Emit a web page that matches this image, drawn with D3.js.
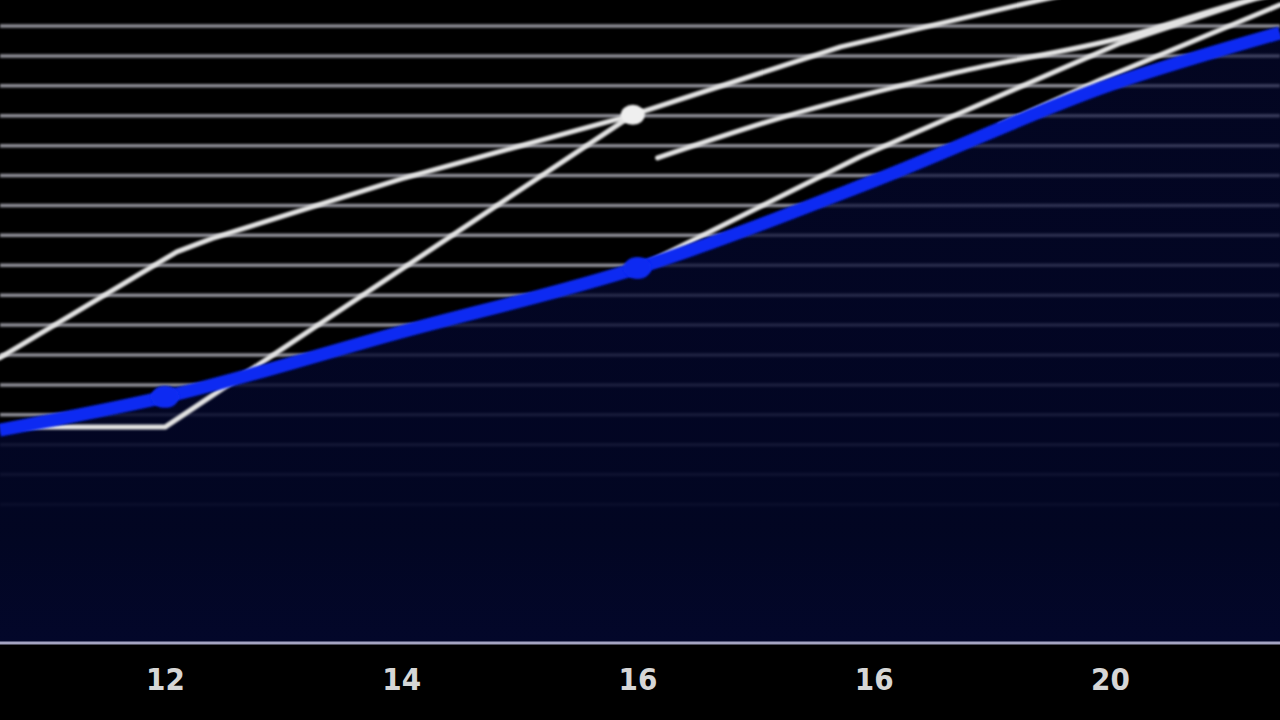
<!DOCTYPE html>
<html>
<head>
<meta charset="utf-8">
<script src="https://cdn.jsdelivr.net/npm/d3@7"></script>
<style>
  body { margin: 0; background: #000; }
  svg { display: block; }
</style>
</head>
<body>
<div id="content"></div>
<script>
// SVG size
var svgWidth = 1280;
var svgHeight = 720;

// x axis ticks (the 4th label reads "16" in the picture)
var xTickValues = [12, 14, 16, 18, 20];
var xTickLabels = ["12", "14", "16", "16", "20"];

// horizontal grid values
var gridValues = [5, 6, 7, 8, 9, 10, 11, 12, 13, 14, 15, 16, 17, 18, 19, 20, 21];

// blue (filled) series
var blueX = [10.6, 12, 14, 16, 18, 20, 21.44];
var blueY = [7.49, 8.60, 10.77, 12.91, 15.82, 19.03, 20.77];
var blueMarkerX = [12, 16];

// white series
var whiteAX = [10.6, 12.1, 12.4, 14, 15.96, 17.72, 19.41, 21.44];
var whiteAY = [9.90, 13.45, 13.9, 15.89, 18.03, 20.30, 21.87, 23.6];
var whiteBX = [10.8, 12, 15.96];
var whiteBY = [7.59, 7.59, 18.03];
var whiteCX = [16.17, 17.21, 18.7, 20.09, 21.19, 21.44];
var whiteCY = [16.59, 17.93, 19.45, 20.60, 21.87, 22.1];
var whiteDX = [16, 17.88, 20.09, 21.19, 21.44];
var whiteDY = [12.91, 16.62, 20.43, 21.87, 22.2];
var whiteEX = [19.07, 19.92, 21.44];
var whiteEY = [17.69, 19.20, 21.71];
var whiteMarker = { x: 15.96, y: 18.03 };

// value of the baseline the area sits on
var baseValue = 0.37;

var xScale = d3.scaleLinear()
    .domain([10.6032, 21.439])
    .range([0, svgWidth]);

var yScale = d3.scaleLinear()
    .domain([baseValue, 21])
    .range([643, 26]);

function zip(xs, ys) {
    return xs.map(function (x, i) { return { x: x, y: ys[i] }; });
}

var svg = d3.select("#content").append("svg")
    .attr("width", svgWidth)
    .attr("height", svgHeight);

var defs = svg.append("defs");

var grad = defs.append("linearGradient")
    .attr("id", "areaGrad")
    .attr("gradientUnits", "userSpaceOnUse")
    .attr("x1", 0).attr("y1", 0).attr("x2", 0).attr("y2", yScale(baseValue));
grad.append("stop").attr("offset", "0%").attr("stop-color", "#050a3a").attr("stop-opacity", 0.55);
grad.append("stop").attr("offset", "55%").attr("stop-color", "#03072c").attr("stop-opacity", 0.8);
grad.append("stop").attr("offset", "82%").attr("stop-color", "#020623").attr("stop-opacity", 0.97);
grad.append("stop").attr("offset", "100%").attr("stop-color", "#03072a").attr("stop-opacity", 1);

defs.append("filter").attr("id", "soft")
    .append("feGaussianBlur").attr("stdDeviation", 0.9);

svg.append("rect")
    .attr("width", svgWidth)
    .attr("height", svgHeight)
    .attr("fill", "#000");

// Grid lines
svg.append("g")
    .attr("class", "grid")
    .attr("filter", "url(#soft)")
    .selectAll("line")
    .data(gridValues)
    .enter().append("line")
    .attr("x1", 0)
    .attr("x2", svgWidth)
    .attr("y1", function (d) { return yScale(d); })
    .attr("y2", function (d) { return yScale(d); })
    .attr("stroke", "#8e8e96")
    .attr("stroke-width", 3.5);

// Area under the blue line
var area = d3.area()
    .x(function (d) { return xScale(d.x); })
    .y0(yScale(baseValue))
    .y1(function (d) { return yScale(d.y); })
    .curve(d3.curveMonotoneX);

var blueData = zip(blueX, blueY);

svg.append("path")
    .datum(blueData)
    .attr("d", area)
    .attr("fill", "url(#areaGrad)");

// White lines: C bends smoothly, the others have straight segments
var line = d3.line()
    .x(function (d) { return xScale(d.x); })
    .y(function (d) { return yScale(d.y); });

var smoothLine = d3.line()
    .x(function (d) { return xScale(d.x); })
    .y(function (d) { return yScale(d.y); })
    .curve(d3.curveMonotoneX);

var whiteSeries = [
    { pts: zip(whiteAX, whiteAY), gen: line },
    { pts: zip(whiteBX, whiteBY), gen: line },
    { pts: zip(whiteCX, whiteCY), gen: smoothLine },
    { pts: zip(whiteDX, whiteDY), gen: line },
    { pts: zip(whiteEX, whiteEY), gen: line }
];

svg.append("g")
    .attr("filter", "url(#soft)")
    .selectAll("path")
    .data(whiteSeries)
    .enter().append("path")
    .attr("d", function (d) { return d.gen(d.pts); })
    .attr("fill", "none")
    .attr("stroke", "#e2e2e2")
    .attr("stroke-width", 5)
    .attr("stroke-linejoin", "round")
    .attr("stroke-linecap", "round");

svg.append("ellipse")
    .attr("cx", xScale(whiteMarker.x))
    .attr("cy", yScale(whiteMarker.y))
    .attr("rx", 12)
    .attr("ry", 10)
    .attr("fill", "#efefef")
    .attr("filter", "url(#soft)");

// Blue line
var blueLine = d3.line()
    .x(function (d) { return xScale(d.x); })
    .y(function (d) { return yScale(d.y); })
    .curve(d3.curveMonotoneX);

svg.append("path")
    .datum(blueData)
    .attr("d", blueLine)
    .attr("fill", "none")
    .attr("stroke", "#0a2af2")
    .attr("stroke-width", 13)
    .attr("filter", "url(#soft)");

svg.append("g")
    .selectAll("ellipse")
    .data(blueData.filter(function (d) { return blueMarkerX.indexOf(d.x) >= 0; }))
    .enter().append("ellipse")
    .attr("cx", function (d) { return xScale(d.x); })
    .attr("cy", function (d) { return yScale(d.y); })
    .attr("rx", 14)
    .attr("ry", 11)
    .attr("fill", "#0a2af2")
    .attr("filter", "url(#soft)");

// x axis
var xAxis = d3.axisBottom(xScale)
    .tickValues(xTickValues)
    .tickFormat(function (d, i) { return xTickLabels[i]; })
    .tickSize(0)
    .tickPadding(25);

var gx = svg.append("g")
    .attr("class", "x axis")
    .attr("transform", "translate(0," + yScale(baseValue) + ")")
    .call(xAxis);

gx.select(".domain")
    .attr("d", "M0,0H" + svgWidth)
    .attr("stroke", "#a4a4c2")
    .attr("stroke-width", 3);

gx.selectAll("text")
    .attr("fill", "#d6d6d6")
    .attr("font-family", "'DejaVu Sans Condensed', 'DejaVu Sans', sans-serif")
    .attr("font-weight", "bold")
    .attr("font-size", 31);
</script>
</body>
</html>
